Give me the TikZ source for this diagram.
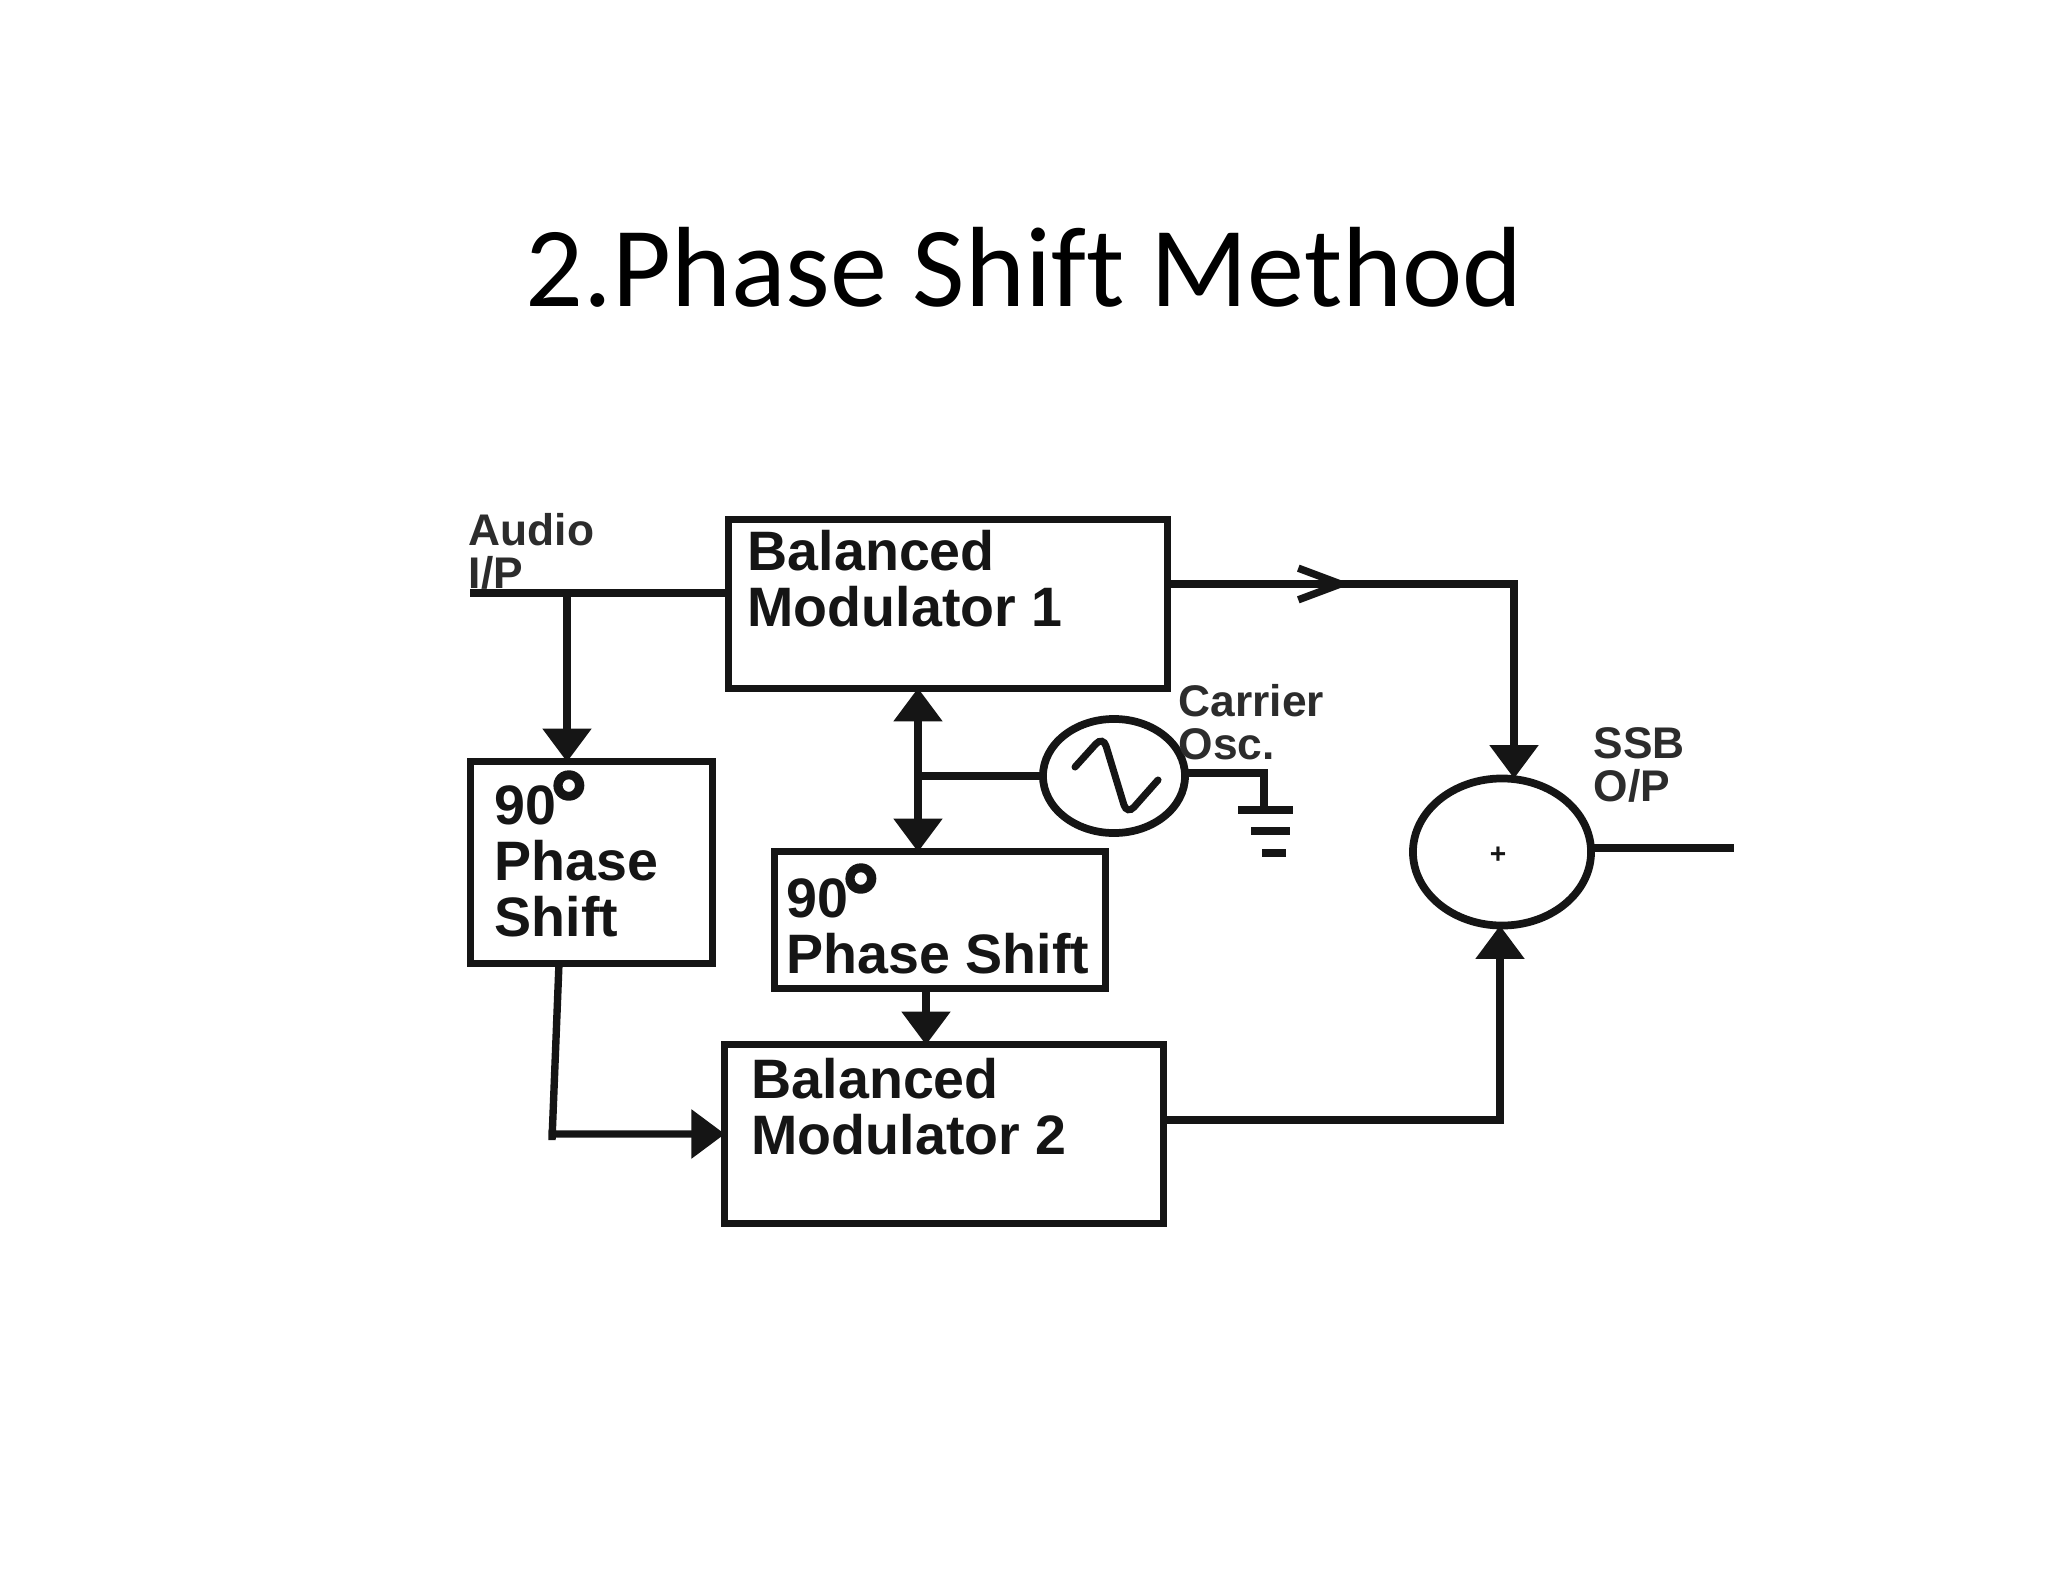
\documentclass[tikz,border=0pt]{standalone}
\usepackage{fontspec}
\setmainfont{Liberation Sans}
\newfontfamily\titlefont[Ligatures=NoCommon]{Carlito}
\usetikzlibrary{arrows.meta,shapes.geometric,calc}
\definecolor{ink}{HTML}{151515}
\tikzset{
  x=0.01cm,y=-0.01cm,
  blockbox/.style={draw=ink,line width=2pt,inner sep=0pt,outer sep=0pt,rectangle},
  wire/.style={draw=ink,line width=2.1pt,line join=miter},
  tipfill/.style={-{Triangle[length=9.5pt,width=13.5pt]}},
  tipboth/.style={{Triangle[length=9.5pt,width=13.5pt]}-{Triangle[length=9.5pt,width=13.5pt]}},
  tipopen/.style={-{Straight Barb[length=12pt,width=9pt]}},
  biglabel/.style={anchor=north west,inner sep=0pt,align=left,text=ink,font=\fontsize{15.8}{15.9}\selectfont\bfseries},
  smalllabel/.style={anchor=north west,inner sep=0pt,align=left,text=ink!90,font=\fontsize{12.6}{12.2}\selectfont\bfseries},
  roundel/.style={ellipse,draw=ink,line width=2.2pt,inner sep=0pt,outer sep=0pt},
}
\newfontfamily\ringfont[FakeBold=2.5]{Liberation Sans Bold}
\newcommand{\degring}{\hspace*{-1.7pt}\smash{\raisebox{-3pt}{\ringfont\fontsize{26}{26}\selectfont °}}}
\begin{document}
\begin{tikzpicture}
\useasboundingbox (0,0) rectangle (2048,1582);
\fill[white] (0,0) rectangle (2048,1582);

\node[anchor=base,inner sep=0pt,text=black,font=\titlefont\fontsize{32.45}{36}\selectfont] (title) at (1024,307) {2.Phase Shift Method};

\node[blockbox,minimum width=4.38cm,minimum height=1.68cm] (bm1) at (948,604) {};
\node[blockbox,minimum width=4.38cm,minimum height=1.78cm] (bm2) at (944,1134) {};
\node[blockbox,minimum width=2.41cm,minimum height=2.01cm] (ps1) at (591.5,862.5) {};
\node[blockbox,minimum width=3.30cm,minimum height=1.36cm] (ps2) at (940,920) {};
\node[roundel,minimum width=1.42cm,minimum height=1.14cm] (osc) at (1114,776) {};
\node[roundel,minimum width=1.78cm,minimum height=1.47cm,label={[xshift=-1.1pt,yshift=-1pt,inner sep=0pt,font=\fontsize{8}{9}\selectfont\bfseries,text=ink]center:+}] (sum) at (1502,852) {};

\node[biglabel] (t1) at (747,530) {Balanced\\Modulator 1};
\node[biglabel] (t2) at (751,1058) {Balanced\\Modulator 2};
\node[biglabel] (t3) at (494,785) {90\degring\\Phase\\Shift};
\node[biglabel] (t4) at (786,878) {90\degring\\Phase Shift};
\node[smalllabel] (t5) at (468,513) {Audio\\I/P};
\node[smalllabel] (t6) at (1178,684) {Carrier\\Osc.};
\node[smalllabel] (t7) at (1593,727) {SSB\\O/P};

\coordinate (ain) at (470,593);
\coordinate (j1) at (567,593);
\coordinate (j2) at (918,776);
\coordinate (oa) at (1351,584);
\coordinate (oa0) at (1338,584);
\coordinate (cn) at (1514,584);
\coordinate (g0) at (1264,773);
\coordinate (g1) at (1264,810);
\coordinate (s1) at (559,965);
\coordinate (s2) at (552,1134);
\coordinate (c2) at (1500,1120);
\coordinate (out) at (1734,848);

\draw[wire] (ain) -- (ain -| bm1.west);
\draw[wire,tipfill] (j1) -- (j1 |- ps1.north);
\draw[wire,tipopen] (oa -| bm1.east) -- (oa);
\draw[wire,tipfill] (oa0) -- (cn) -- (cn |- sum.north);
\draw[wire,tipboth] (j2 |- bm1.south) -- (j2 |- ps2.north);
\draw[wire] (j2) -- (osc.west);
\draw[wire] (g0 -| osc.east) -- (g0) -- (g1);
\draw[wire,tipfill] (926,990) coordinate (p2b) (p2b |- ps2.south) -- (p2b |- bm2.north);
\draw[wire,tipfill] (s1 |- ps1.south) -- ($(s2)+(0,6)$) -- (s2) -- (s2 -| bm2.west);
\draw[wire,tipfill] (c2 -| bm2.east) -- (c2) -- (c2 |- sum.south);
\draw[wire] (out -| sum.east) -- (out);

\draw[ink,line width=2pt,line cap=round,rounded corners=3pt] (1075,767) -- (1103,736) -- (1127,815) -- (1158,780);
\draw[ink,line width=2.1pt] (1238,810) -- (1293,810);
\draw[ink,line width=2.1pt] (1251,831) -- (1290,831);
\draw[ink,line width=2.1pt] (1262,853) -- (1286,853);
\end{tikzpicture}
\end{document}
